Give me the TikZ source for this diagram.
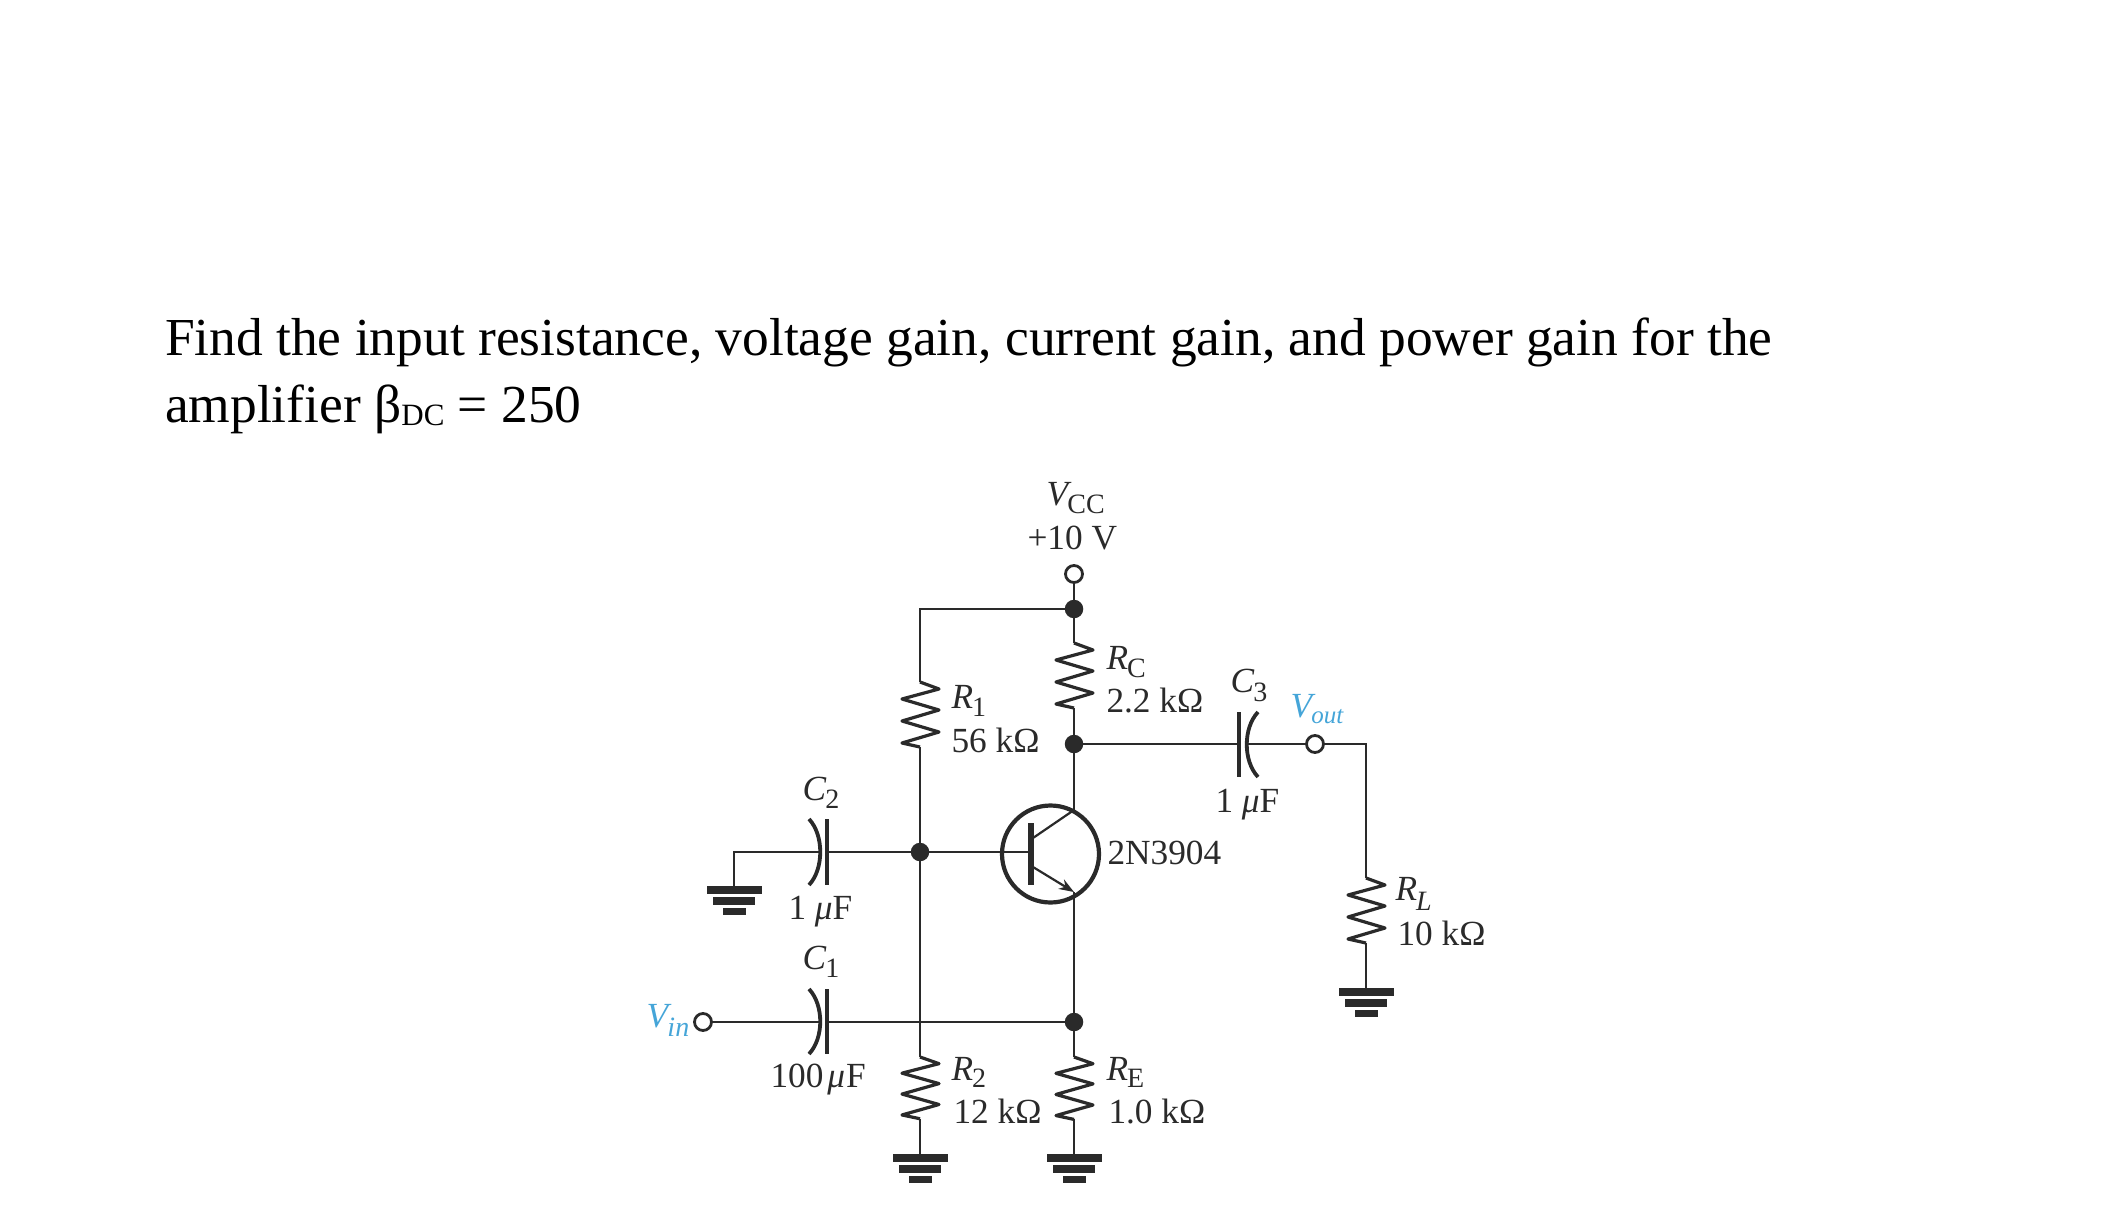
\documentclass[tikz,border=0pt]{standalone}
\usepackage{fontspec}
\setmainfont{Liberation Serif}
\usetikzlibrary{arrows.meta}
\definecolor{ink}{HTML}{2A2A2A}
\definecolor{vblue}{HTML}{45A5D8}
\newcommand{\szT}{\fontsize{53.45}{53}\selectfont}
\newcommand{\szA}{\fontsize{35.3}{35}\selectfont}
\newcommand{\szB}{\fontsize{28}{28}\selectfont}
\newcommand{\sbs}[2][-8pt]{\raisebox{#1}{\szB #2}}
% resistor: name, x, top y, y-scale
\newcommand{\zigres}[4]{%
  \begin{scope}[shift={(#2,#3)},yscale=#4]
    \coordinate (#1t) at (0,0);
    \coordinate (#1b) at (0,65);
    \draw[wire,line width=3.2pt,line join=round] (#1t) -- (19,7) -- (-18,17) -- (19,28) -- (-18,39) -- (19,50) -- (-18,61) -- (#1b);
  \end{scope}}
% ground symbol: name, x, y of the top bar centre
\newcommand{\gnd}[3]{%
  \coordinate (#1) at (#2,#3-4);
  \fill[ink] (#2-27.5,#3-4) rectangle (#2+27.5,#3+4);
  \fill[ink] (#2-21,#3+7) rectangle (#2+21,#3+15);
  \fill[ink] (#2-11.5,#3+18) rectangle (#2+11.5,#3+25);}
\tikzset{
  wire/.style={draw=ink,line width=2.8pt},
  plate/.style={draw=ink,line width=3.8pt},
  dot/.style={circle,fill=ink,draw=none,minimum size=18.5pt,inner sep=0pt},
  term/.style={circle,fill=white,draw=ink,line width=2.8pt,minimum size=17pt,inner sep=0pt},
  lab/.style={anchor=base west,inner sep=0pt,outer sep=0pt,text=ink,font=\szA,xshift=-1.5pt},
  bluelab/.style={lab,text=vblue},
  title/.style={anchor=base west,inner sep=0pt,outer sep=0pt,text=black,font=\szT},
}
\begin{document}
\begin{tikzpicture}[x=1pt,y=-1pt]
\useasboundingbox (0,0) rectangle (2123,1231);
% title
\node[title] (t1) at (165,355) {Find the input resistance, voltage gain, current gain, and power gain for the};
\node[title] (t2) at (165,422) {amplifier β\raisebox{-3pt}{\fontsize{31}{31}\selectfont DC} = 250};
% junctions and terminals
\node[dot] (jtop) at (1074,609) {};
\node[dot] (jc) at (1074,744) {};
\node[dot] (jb) at (920,852) {};
\node[dot] (je) at (1074,1022) {};
\coordinate (corner) at (920,609);
\coordinate (cl) at (734,852);
\coordinate (rr) at (1366,744);
% resistors
\zigres{R1}{920}{682}{1}
\zigres{RC}{1074}{643}{1}
\zigres{RL}{1366}{878}{1}
\zigres{R2}{920}{1057}{0.95}
\zigres{RE}{1074}{1057}{0.96}
% grounds
\gnd{g2}{734}{890}
\gnd{gR2}{920}{1158}
\gnd{gRE}{1074}{1158}
\gnd{gRL}{1366}{992}
% capacitor plates
\coordinate (C2s) at (827,852); \coordinate (C2c) at (820,852);
\coordinate (C1s) at (827,1022); \coordinate (C1c) at (820,1022);
\coordinate (C3s) at (1239,744); \coordinate (C3c) at (1247,744);
\draw[plate] (827,819) -- (827,885);
\draw[plate] (809,819) .. controls (824,835) and (824,869) .. (809,885);
\draw[plate] (827,989) -- (827,1054);
\draw[plate] (809,989) .. controls (824,1005) and (824,1038) .. (809,1054);
\draw[plate] (1239,712) -- (1239,777);
\draw[plate] (1258,712) .. controls (1243,728) and (1243,761) .. (1258,777);
% transistor
\node[circle,draw=ink,line width=4.2pt,minimum size=97pt,inner sep=0pt] (Q) at (1050.5,854) {};
\coordinate (bar) at (1031,852);
\coordinate (cin) at (1033,838);
\coordinate (cout) at (1074,810);
\coordinate (ein) at (1033,867);
\coordinate (eout) at (1074,892);
\draw[ink,line width=6pt] (1031,823) -- (1031,885);
\draw[wire,line width=2.2pt] (cin) -- (cout);
\draw[wire,line width=2.2pt,-{Stealth[length=15pt,width=11pt]}] (ein) -- (eout);
% open terminals
\node[term] (vcc) at (1074,574) {};
\node[term] (vout) at (1315,744) {};
\node[term] (vin) at (703,1022) {};
% connectors
\draw[wire] (vcc) -- (jtop);
\draw[wire] (jtop) -- (RCt);
\draw[wire] (RCb) -- (jc);
\draw[wire] (jc) -- (cout);
\draw[wire] (jtop) -- (corner) -- (R1t);
\draw[wire] (R1b) -- (jb);
\draw[wire] (jb) -- (R2t);
\draw[wire] (R2b) -- (gR2);
\draw[wire] (eout) -- (je);
\draw[wire] (je) -- (REt);
\draw[wire] (REb) -- (gRE);
\draw[wire] (g2) -- (cl) -- (C2c);
\draw[wire] (C2s) -- (jb);
\draw[wire] (jb) -- (bar);
\draw[wire] (vin) -- (C1c);
\draw[wire] (C1s) -- (je);
\draw[wire] (jc) -- (C3s);
\draw[wire] (C3c) -- (vout);
\draw[wire] (vout) -- (rr) -- (RLt);
\draw[wire] (RLb) -- (gRL);
% labels
\node[lab] (lvcc) at (1048,505) {\textit{V}\kern-4pt\sbs{CC}};
\node[lab] (l10v) at (1029,549) {+10 V};
\node[lab] (lrc) at (1108,669) {\textit{R}\kern-1pt\sbs{C}};
\node[lab] (l22k) at (1108,712) {2.2 kΩ};
\node[lab] (lc3) at (1232,692) {\textit{C}\kern-1pt\sbs[-9pt]{3}};
\node[bluelab] (lvout) at (1292,717) {\textit{V}\kern-4pt\raisebox{-6pt}{\fontsize{25}{25}\selectfont\textit{out}}};
\node[lab] (l1u3) at (1217,812) {1 \textit{μ}F};
\node[lab] (lr1) at (953,708) {\textit{R}\kern-1pt\sbs{1}};
\node[lab] (l56k) at (953,752) {56 kΩ};
\node[lab] (lc2) at (804,800) {\textit{C}\kern-1pt\sbs{2}};
\node[lab] (lq) at (1109,864) {2N3904};
\node[lab] (l1u2) at (790,919) {1 \textit{μ}F};
\node[lab] (lc1) at (804,969) {\textit{C}\kern-1pt\sbs{1}};
\node[bluelab] (lvin) at (648,1027) {\textit{V}\kern-4pt\raisebox{-9pt}{\fontsize{28}{28}\selectfont\textit{in}}};
\node[lab] (l100u) at (772,1087) {100\kern4pt\textit{μ}\kern1pt F};
\node[lab] (lr2) at (953,1080) {\textit{R}\kern-1pt\sbs[-7pt]{2}};
\node[lab] (l12k) at (955,1123) {12 kΩ};
\node[lab] (lre) at (1108,1080) {\textit{R}\kern-1pt\sbs[-7pt]{E}};
\node[lab] (l10k1) at (1110,1123) {1.0 kΩ};
\node[lab] (lrl) at (1397,900) {\textit{R}\kern-1pt\raisebox{-10pt}{\szB\textit{L}}};
\node[lab] (l10k) at (1399,945) {10 kΩ};
\end{tikzpicture}
\end{document}
